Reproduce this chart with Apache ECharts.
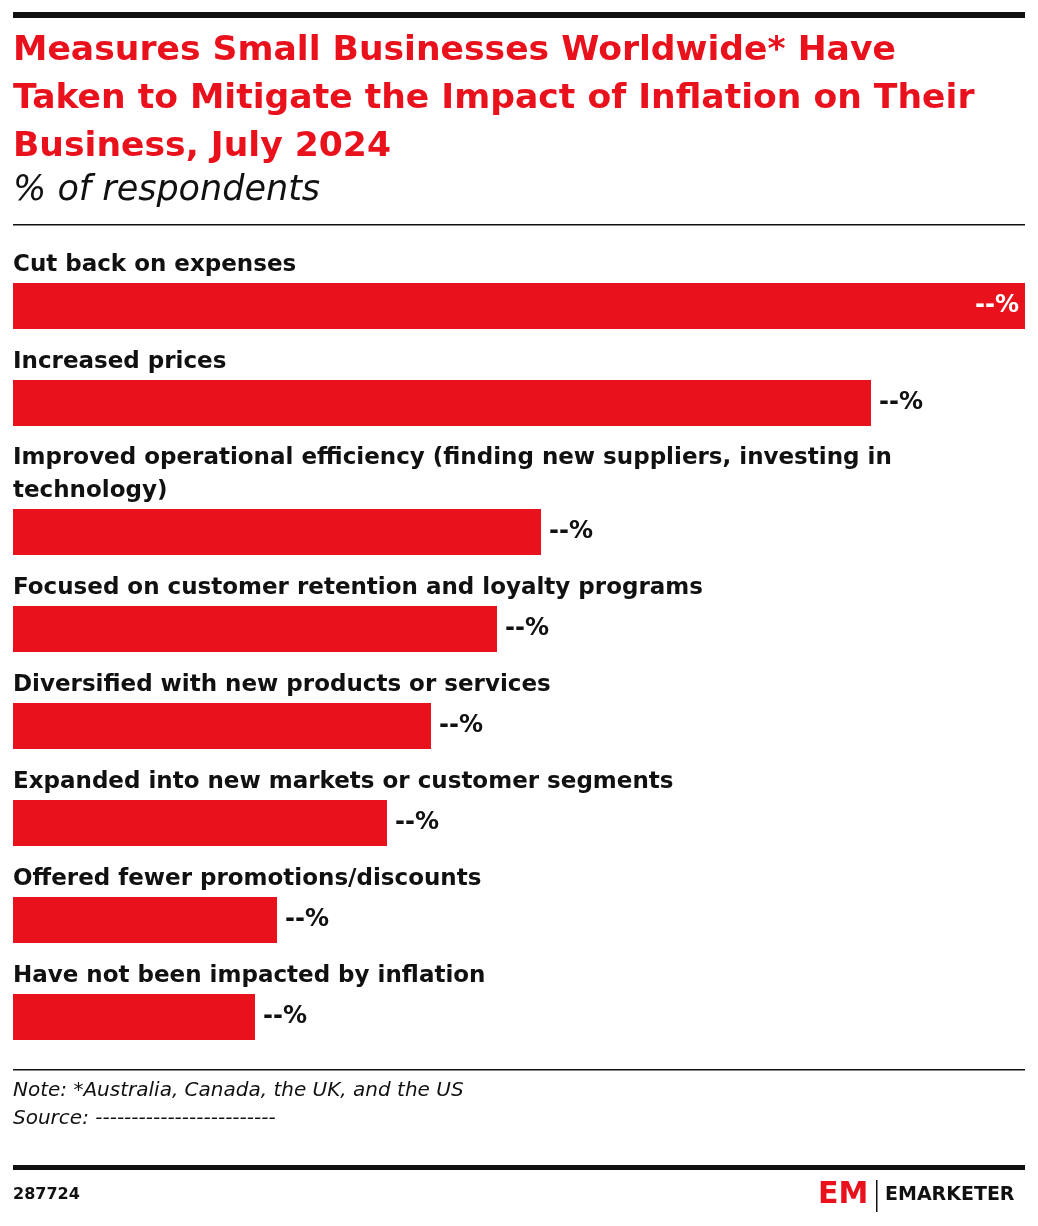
<!DOCTYPE html>
<html><head><meta charset="utf-8">
<script src="https://cdn.jsdelivr.net/npm/echarts@6/dist/echarts.min.js"></script>
<style>html,body{margin:0;padding:0;background:#fff}#c{width:1038px;height:1226px}</style>
</head><body><div id="c"></div>
<script>
const categories = [
  "Cut back on expenses",
  "Increased prices",
  "Improved operational efficiency (finding new suppliers, investing in\ntechnology)",
  "Focused on customer retention and loyalty programs",
  "Diversified with new products or services",
  "Expanded into new markets or customer segments",
  "Offered fewer promotions/discounts",
  "Have not been impacted by inflation"
];
const values = [46, 39, 24, 22, 19, 17, 12, 11];
const valueLabels = ["--%", "--%", "--%", "--%", "--%", "--%", "--%", "--%"];
const barTops = [283, 380, 509, 606, 703, 800, 897, 994];

const RED = '#e8111c';
const FONT = '"DejaVu Sans", sans-serif';
const chart = echarts.init(document.getElementById('c'), null, {renderer: 'canvas'});
const grids = [], xAxes = [], yAxes = [], series = [], graphics = [];
categories.forEach((cat, i) => {
  grids.push({left: 13, right: 13, top: barTops[i], height: 46});
  xAxes.push({gridIndex: i, type: 'value', min: 0, max: 46, show: false});
  yAxes.push({gridIndex: i, type: 'category', data: [cat], show: false});
  const inside = i === 0;
  series.push({
    type: 'bar', xAxisIndex: i, yAxisIndex: i, data: [values[i]], barWidth: 46,
    itemStyle: {color: RED}, silent: true,
    label: {show: true, position: inside ? 'insideRight' : 'right', distance: inside ? 6 : 8,
      formatter: () => valueLabels[i], color: inside ? '#fff' : '#111',
      fontFamily: FONT, fontSize: 24, fontWeight: 600}
  });
  const lines = cat.split('\n').length;
  graphics.push({type: 'text', left: 13, top: barTops[i] - 34 - (lines - 1) * 33,
    style: {text: cat, fontFamily: FONT, fontSize: 23, fontWeight: 700, fill: '#111', lineHeight: 33}});
});
graphics.push(
  {type: 'rect', shape: {x: 13, y: 12, width: 1012, height: 6}, style: {fill: '#111'}},
  {type: 'text', left: 13, top: 27, style: {text: 'Measures Small Businesses Worldwide* Have\nTaken to Mitigate the Impact of Inflation on Their\nBusiness, July 2024', fontFamily: FONT, fontSize: 34.6, fontWeight: 700, fill: RED, lineHeight: 48}},
  {type: 'text', left: 13, top: 173, style: {text: '% of respondents', fontFamily: FONT, fontSize: 35, fontStyle: 'italic', fill: '#111'}},
  {type: 'rect', shape: {x: 13, y: 224, width: 1012, height: 1.5}, style: {fill: '#111'}},
  {type: 'rect', shape: {x: 13, y: 1069, width: 1012, height: 1.5}, style: {fill: '#111'}},
  {type: 'text', left: 13, top: 1077, style: {text: 'Note: *Australia, Canada, the UK, and the US\nSource: -------------------------', fontFamily: FONT, fontSize: 20, fontStyle: 'italic', fill: '#111', lineHeight: 28}},
  {type: 'rect', shape: {x: 13, y: 1165, width: 1012, height: 5}, style: {fill: '#111'}},
  {type: 'text', left: 13, top: 1187, style: {text: '287724', fontFamily: FONT, fontSize: 16, fontWeight: 700, fill: '#111'}},
  {type: 'text', left: 818, top: 1180, style: {text: 'EM', fontFamily: FONT, fontSize: 30, fontWeight: 800, fill: RED}},
  {type: 'rect', shape: {x: 876, y: 1180, width: 1.5, height: 32}, style: {fill: '#111'}},
  {type: 'text', left: 885, top: 1186, style: {text: 'EMARKETER', fontFamily: FONT, fontSize: 19, fontWeight: 700, fill: '#111'}}
);
chart.setOption({animation: false, grid: grids, xAxis: xAxes, yAxis: yAxes, series, graphic: graphics});
</script></body></html>
